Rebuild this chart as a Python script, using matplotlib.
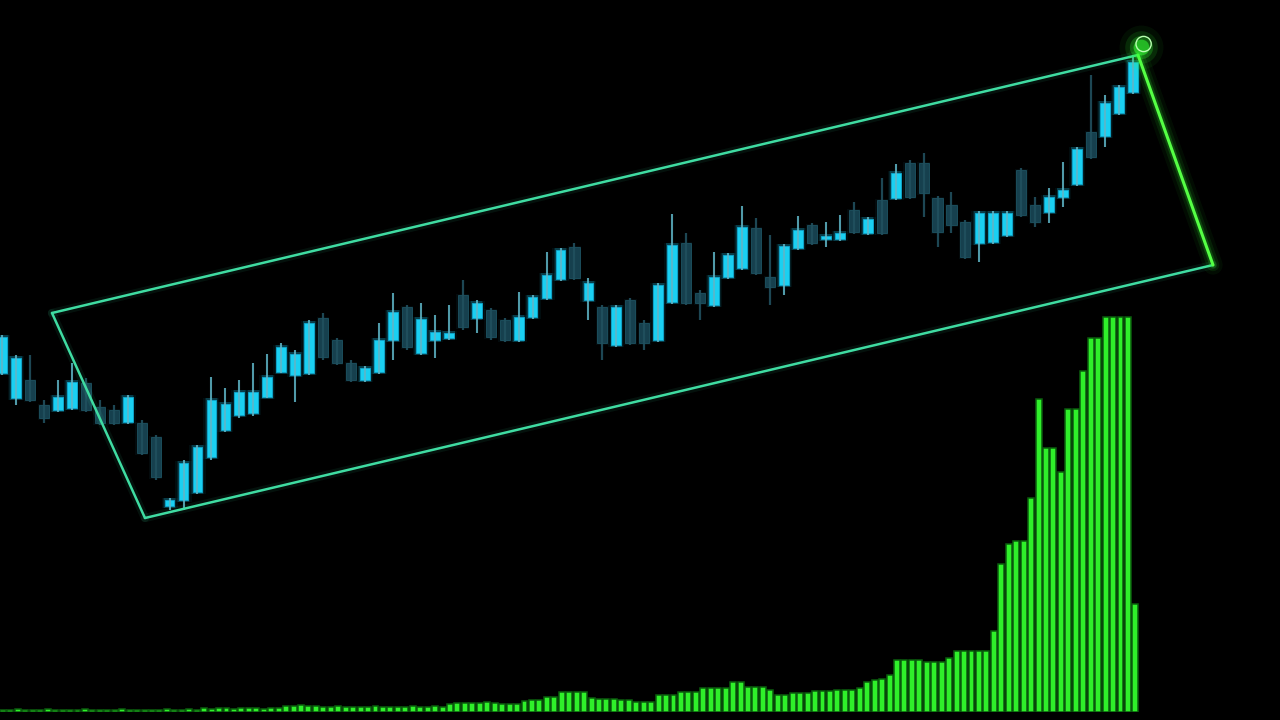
import matplotlib
matplotlib.use("Agg")
import matplotlib.pyplot as plt
import numpy as np

# ---------------- data ----------------
opens  = [347,322,340,315,310,312,337,313,310,298,297,283,214,220,228,263,290,305,307,323,
          348,345,347,402,380,357,340,348,380,413,367,380,382,425,402,410,400,380,403,422,
          441,473,420,413,375,420,397,380,418,477,427,415,443,452,492,443,435,472,495,481,
          481,510,487,520,522,557,557,522,515,498,477,478,485,550,515,508,523,536,588,584,
          607,628]
highs  = [385,365,365,320,340,357,342,320,315,325,300,285,222,260,275,343,332,340,357,366,
          377,370,400,407,382,360,354,397,427,415,417,405,415,440,420,412,402,428,425,468,
          472,477,442,415,415,422,400,437,506,487,430,468,467,514,502,485,476,504,497,498,
          505,518,503,542,556,560,567,524,528,500,509,509,509,552,523,532,558,573,645,625,
          635,665]
lows   = [345,315,318,297,308,310,308,295,295,296,265,240,210,210,226,260,288,302,304,322,
          347,318,345,360,355,338,338,346,360,370,365,362,380,390,387,380,378,378,401,420,
          439,440,400,360,373,375,370,378,416,415,400,413,441,450,445,415,425,470,475,473,
          479,486,485,485,520,521,503,473,487,461,458,476,483,503,493,497,513,534,561,573,
          605,626]
closes = [383,362,320,302,323,338,310,297,297,323,267,243,220,257,273,320,316,328,328,343,
          373,366,397,363,357,340,352,380,408,373,401,388,387,393,417,383,380,403,423,445,
          470,442,437,377,413,377,377,435,475,417,417,443,465,493,447,433,474,490,477,484,
          487,488,501,487,547,523,527,488,495,463,507,507,507,505,498,523,530,571,563,617,
          633,658]

volumes = [2,2,3,2,2,2,3,2,2,2, 2,3,2,2,2,2,3,2,2,2, 2,2,3,2,2,3,2,
           4,3,4,4,3,4,4,4,3,4,4,
           6,6,7,6,6,
           5,5,6,5,5,5,5,6,5,5,5,5,6,5,5,6,5,
           8,9,9,9,9,10,9,
           8,8,8,
           11,12,12,
           15,15,
           20,20,20,20,
           14,13,13,13,12,12,
           10,10,10,
           17,17,17,
           20,20,20,
           24,24,24,24,
           30,30,
           25,25,25,
           22,
           17,17,
           19,19,19,
           21,21,21,22,22,22,
           24,
           30,32,33,
           37,
           52,52,52,52,
           50,50,50,
           54,
           61,61,61,61,61,
           81,148,168,171,171,214,313,264,264,240,303,303,341,374,374,395,395,395,395,108]

# channel corners (candle index, price)
channel_x = [3.58, 81.36, 86.73, 10.24]
channel_y = [407, 665, 455, 202]

# ---------------- figure ----------------
fig = plt.figure(figsize=(12.8, 7.2), dpi=100, facecolor="black")

# volume axes
axv = fig.add_axes([0, 8/720, 1, 712/720])
axv.set_facecolor("black")
vx = np.arange(len(volumes))
axv.bar(vx, volumes, width=0.8, color="#2ff02a", edgecolor="#0b5e0e", linewidth=1.1)
axv.set_xlim(-3/7.45, (1280-3)/7.45)
axv.set_ylim(0, 712)
axv.axis("off")

# candle axes
ax = fig.add_axes([0, 0, 1, 1])
ax.patch.set_alpha(0)
sp = (1133-2)/81
ax.set_xlim(-2/sp, (1280-2)/sp)
ax.set_ylim(0, 720)
ax.axis("off")

o = np.array(opens); h = np.array(highs); l = np.array(lows); c = np.array(closes)
x = np.arange(len(o))
bull = c >= o
bear = ~bull
bot = np.minimum(o, c)
hgt = np.maximum(np.abs(c - o), 2)

# dim (bearish) candles
ax.vlines(x[bear], l[bear], h[bear], color="#21505e", linewidth=1.6, alpha=0.9)
ax.bar(x[bear], hgt[bear] + 3, bottom=bot[bear] - 1.5, width=0.9, color="#1c5566",
       alpha=0.12, linewidth=0)
ax.bar(x[bear], hgt[bear], bottom=bot[bear], width=0.72, color="#194756",
       edgecolor="#1f5868", linewidth=0.6, alpha=0.9)

# bright (bullish) candles with glow
for w, a in [(1.15, 0.06), (0.95, 0.10), (0.82, 0.16)]:
    ax.bar(x[bull], hgt[bull] + 4, bottom=bot[bull] - 2, width=w, color="#1fd3ff",
           alpha=a, linewidth=0)
ax.vlines(x[bull], l[bull], h[bull], color="#5fb6c8", linewidth=1.5, alpha=0.85)
ax.bar(x[bull], hgt[bull], bottom=bot[bull], width=0.70, color="#1ad0f2",
       edgecolor="#0fa8d0", linewidth=0.6)

# channel
cx = channel_x + [channel_x[0]]
cy = channel_y + [channel_y[0]]
line_col = "#3fdca2"
for (i0, i1) in [(0, 1), (2, 3), (3, 4)]:
    ax.plot([cx[i0], cx[i1]], [cy[i0], cy[i1]], color=line_col, lw=6, alpha=0.08,
            solid_capstyle="round")
    ax.plot([cx[i0], cx[i1]], [cy[i0], cy[i1]], color=line_col, lw=1.8,
            solid_capstyle="round")
# right glowing edge
for lw, a in [(14, 0.05), (9, 0.09), (5, 0.18)]:
    ax.plot([cx[1], cx[2]], [cy[1], cy[2]], color="#33ff33", lw=lw, alpha=a,
            solid_capstyle="round")
ax.plot([cx[1], cx[2]], [cy[1], cy[2]], color="#55ff44", lw=2.2, solid_capstyle="round")

# glowing node at top-right
gx, gy = channel_x[1] + 0.2, channel_y[1] + 8
for s, a in [(1000, 0.06), (550, 0.12), (280, 0.25), (130, 0.55)]:
    ax.scatter([gx], [gy], s=s, color="#33ff33", alpha=a, linewidths=0, zorder=5)
ax.scatter([gx + 0.2], [gy + 3], s=120, facecolors="none", edgecolors="#b8ffb0",
           linewidths=1.0, zorder=6)

fig.savefig("out.png", dpi=100, facecolor="black")
